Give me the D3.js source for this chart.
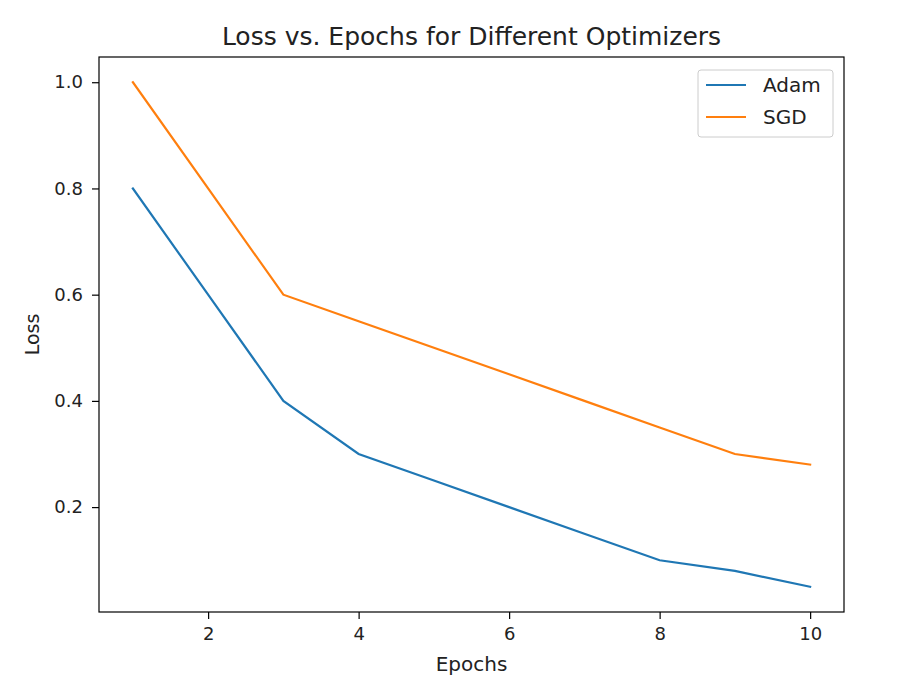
<!DOCTYPE html>
<html>
<head>
<meta charset="utf-8">
<script src="https://cdn.jsdelivr.net/npm/d3@7"></script>
<style>
  body { margin: 0; background: #fff; }
  svg { font-family: "DejaVu Sans", sans-serif; }
</style>
</head>
<body>
<div class="chart"></div>
<script>
var epochs = [1, 2, 3, 4, 5, 6, 7, 8, 9, 10];
var adamLoss = [0.8, 0.6, 0.4, 0.3, 0.25, 0.2, 0.15, 0.1, 0.08, 0.05];
var sgdLoss = [1.0, 0.8, 0.6, 0.55, 0.5, 0.45, 0.4, 0.35, 0.3, 0.28];
var seriesNames = ["Adam", "SGD"];
var seriesColors = ["#1f77b4", "#ff7f0e"];
var xTicks = [2, 4, 6, 8, 10];
var yTicks = [0.2, 0.4, 0.6, 0.8, 1.0];

var svgWidth = 923;
var svgHeight = 694;
var margin = { top: 57, right: 79, bottom: 82, left: 99 };
var width = svgWidth - margin.left - margin.right;
var height = svgHeight - margin.top - margin.bottom;

var svg = d3.select(".chart")
  .append("svg")
  .attr("width", svgWidth)
  .attr("height", svgHeight);

var chart = svg.append("g")
  .attr("transform", "translate(" + margin.left + "," + margin.top + ")");

// matplotlib-style 5% padding on both axes
var xPad = (d3.max(epochs) - d3.min(epochs)) * 0.05;
var allLoss = adamLoss.concat(sgdLoss);
var yPad = (d3.max(allLoss) - d3.min(allLoss)) * 0.05;

var xScale = d3.scaleLinear()
  .domain([d3.min(epochs) - xPad, d3.max(epochs) + xPad])
  .range([0, width]);
var yScale = d3.scaleLinear()
  .domain([d3.min(allLoss) - yPad, d3.max(allLoss) + yPad])
  .range([height, 0]);

var bottomAxis = d3.axisBottom(xScale).tickValues(xTicks).tickSize(7).tickPadding(6).tickFormat(d3.format("d"));
var leftAxis = d3.axisLeft(yScale).tickValues(yTicks).tickSize(7).tickPadding(9).tickFormat(d3.format(".1f"));

var xAxisG = chart.append("g")
  .attr("transform", "translate(0," + height + ")")
  .call(bottomAxis);
var yAxisG = chart.append("g").call(leftAxis);

[xAxisG, yAxisG].forEach(function(g) {
  g.select(".domain").remove();
  g.selectAll("line").attr("stroke", "#000").attr("stroke-width", 1.2);
  g.selectAll("text").attr("font-size", 18).attr("fill", "#222").attr("font-family", "DejaVu Sans, sans-serif");
});
xAxisG.selectAll("text").attr("dy", "0.85em");

// lines
var series = [adamLoss, sgdLoss];
var line = d3.line()
  .x(function(d, i) { return xScale(epochs[i]); })
  .y(function(d) { return yScale(d); });

series.forEach(function(values, k) {
  chart.append("path")
    .datum(values)
    .attr("fill", "none")
    .attr("stroke", seriesColors[k])
    .attr("stroke-width", 2.2)
    .attr("stroke-linecap", "square")
    .attr("d", line);
});

// axes frame
chart.append("rect")
  .attr("width", width)
  .attr("height", height)
  .attr("fill", "none")
  .attr("stroke", "#000")
  .attr("stroke-width", 1.2);

// title and labels
svg.append("text")
  .attr("x", margin.left + width / 2)
  .attr("y", 45)
  .attr("text-anchor", "middle")
  .attr("font-size", 25)
  .attr("fill", "#222")
  .text("Loss vs. Epochs for Different Optimizers");

svg.append("text")
  .attr("x", margin.left + width / 2)
  .attr("y", 671)
  .attr("text-anchor", "middle")
  .attr("font-size", 20)
  .attr("fill", "#222")
  .text("Epochs");

svg.append("text")
  .attr("transform", "translate(39," + (margin.top + height / 2) + ") rotate(-90)")
  .attr("text-anchor", "middle")
  .attr("font-size", 19)
  .attr("fill", "#222")
  .text("Loss");

// legend
var legend = chart.append("g")
  .attr("transform", "translate(" + (width - 146) + ",13)");

legend.append("rect")
  .attr("width", 135)
  .attr("height", 67)
  .attr("rx", 3)
  .attr("fill", "#fff")
  .attr("fill-opacity", 0.8)
  .attr("stroke", "#ccc");

seriesNames.forEach(function(name, k) {
  legend.append("line")
    .attr("x1", 8).attr("x2", 48)
    .attr("y1", 15 + k * 32).attr("y2", 15 + k * 32)
    .attr("stroke", seriesColors[k])
    .attr("stroke-width", 2.2);
  legend.append("text")
    .attr("x", 65)
    .attr("y", 22 + k * 32)
    .attr("font-size", 20)
    .attr("fill", "#222")
    .text(name);
});
</script>
</body>
</html>
